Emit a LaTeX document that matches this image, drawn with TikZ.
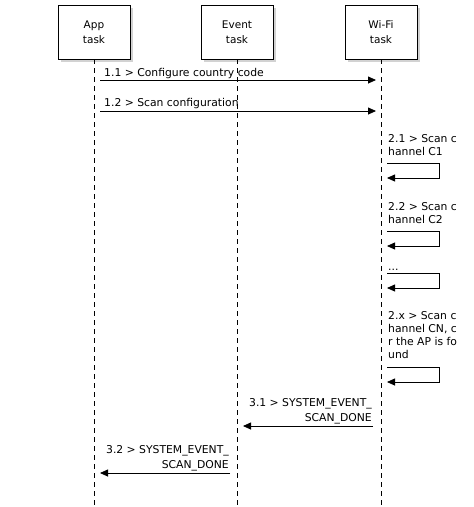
\documentclass[tikz,border=0pt]{standalone}
\usepackage{fontspec}
\setmainfont{DejaVu Sans}
\usetikzlibrary{arrows.meta,shadows}

\tikzset{
  taskbox/.style={draw, fill=white, line width=0.8pt, minimum width=72pt, minimum height=54pt,
    align=center, font=\fontsize{10.5}{15}\selectfont,
    drop shadow={shadow xshift=2.5pt, shadow yshift=-2.5pt, fill=black!35}},
  lifeline/.style={line width=0.8pt, dash pattern=on 5pt off 4pt},
  msg/.style={line width=0.8pt, -{Triangle[length=8pt,width=7pt]}},
  msgtext/.style={font=\fontsize{10.8}{13}\selectfont, inner sep=0pt},
}

\begin{document}
\begin{tikzpicture}[x=1pt, y=-1pt]
    \useasboundingbox (0,0) rectangle (474,507);

    % Task boxes
    \node[taskbox] (app) at (94,32) {App\\task};
    \node[taskbox] (event) at (237,32) {Event\\task};
    \node[taskbox] (wifi) at (381,32) {Wi-Fi\\task};

    % Lifelines
    \coordinate (append) at (94,507);
    \coordinate (eventend) at (237,507);
    \coordinate (wifiend) at (381,507);
    \draw[lifeline] (app.south) -- (append);
    \draw[lifeline] (event.south) -- (eventend);
    \draw[lifeline] (wifi.south) -- (wifiend);

    % 1.1 Configure country code
    \coordinate (a11) at (100,80);
    \coordinate (w11) at (376,80);
    \draw[msg] (a11) -- (w11);
    \begin{scope}
      \clip (100,60) rectangle (264.5,78.5);
      \node[msgtext, anchor=base west] (t11) at (104,76) {1.1 > Configure country code};
    \end{scope}

    % 1.2 Scan configuration
    \coordinate (a12) at (100,111);
    \coordinate (w12) at (376,111);
    \draw[msg] (a12) -- (w12);
    \begin{scope}
      \clip (100,90) rectangle (239,109);
      \node[msgtext, anchor=base west] (t12) at (104,106) {1.2 > Scan configuration};
    \end{scope}

    % Self messages on the Wi-Fi task (text placed by its last line)
    \begin{scope}
      \clip (384,120) rectangle (459,362);
      \node[msgtext, anchor=base west, align=left] (t21) at (388,155) {2.1 > Scan c\\hannel C1};
      \node[msgtext, anchor=base west, align=left] (t22) at (388,223) {2.2 > Scan c\\hannel C2};
      \node[msgtext, anchor=base west] (tdots) at (388,270) {...};
      \node[msgtext, anchor=base west, align=left] (t2x) at (388,358) {2.x > Scan c\\hannel CN, c\\r the AP is fo\\und};
    \end{scope}
    \foreach \name/\ytop in {s21/163, s22/231, sdots/273, s2x/367} {
      \coordinate (\name a) at (387,\ytop);
      \coordinate (\name b) at (439,\ytop);
      \coordinate (\name c) at (439,\ytop+15);
      \coordinate (\name d) at (387,\ytop+15);
      \draw[msg] (\name a) -- (\name b) -- (\name c) -- (\name d);
    }

    % 3.1 Wi-Fi task -> Event task
    \coordinate (w31) at (373,426);
    \coordinate (e31) at (243,426);
    \draw[msg] (w31) -- (e31);
    \node[msgtext, anchor=base east, align=right, font=\fontsize{10.8}{15}\selectfont] (t31) at (372,421) {3.1 > SYSTEM\_EVENT\_\\SCAN\_DONE};

    % 3.2 Event task -> App task
    \coordinate (e32) at (230,473);
    \coordinate (a32) at (100,473);
    \draw[msg] (e32) -- (a32);
    \node[msgtext, anchor=base east, align=right, font=\fontsize{10.8}{15}\selectfont] (t32) at (229,468) {3.2 > SYSTEM\_EVENT\_\\SCAN\_DONE};

\end{tikzpicture}
\end{document}
